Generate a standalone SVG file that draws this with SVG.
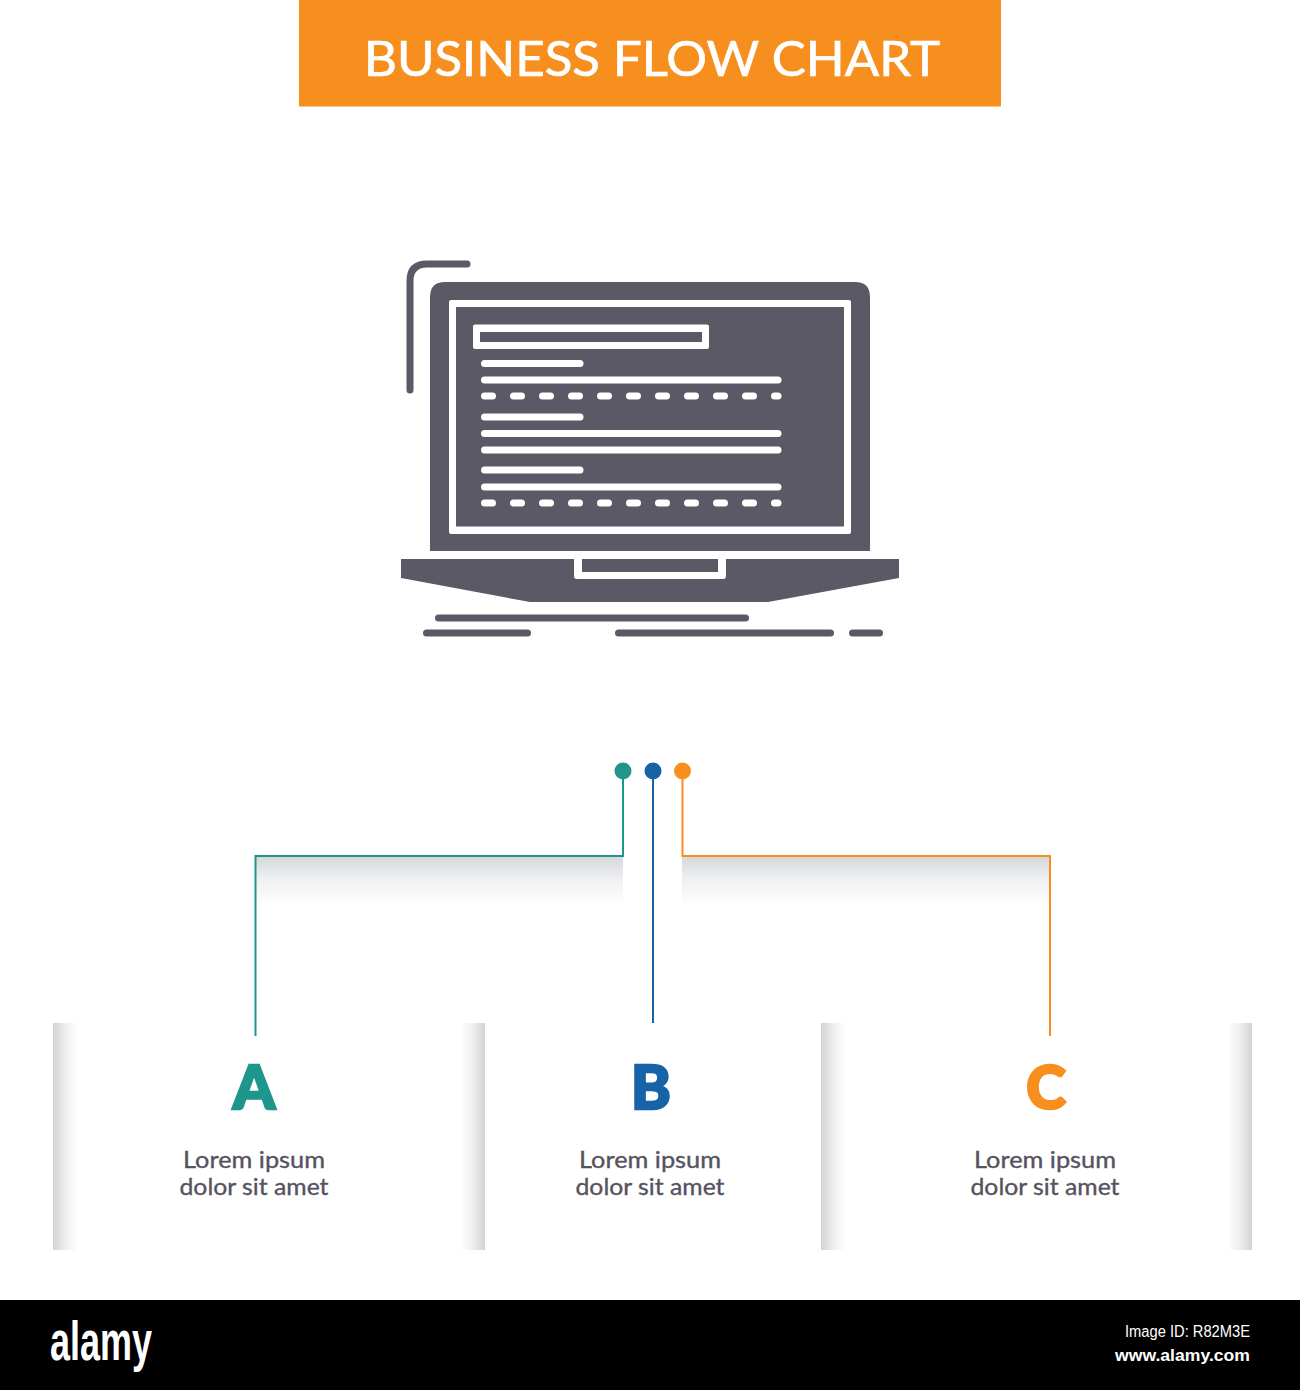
<svg xmlns="http://www.w3.org/2000/svg" width="1300" height="1390" viewBox="0 0 1300 1390">
  <style>
    .dark { fill: #5b5966; }
    .wl { stroke: #ffffff; stroke-width: 7; stroke-linecap: round; fill: none; }
    .dl { stroke: #5b5966; stroke-width: 7; stroke-linecap: round; fill: none; }
    .dash { stroke-dasharray: 8 21; }
    .body { font-family: "Lato", "Liberation Sans", sans-serif; font-size: 23px; fill: #55535f; stroke: #55535f; stroke-width: 0.35; text-anchor: middle; }
    .letter { font-family: "Lato", "Liberation Sans", sans-serif; font-weight: 900; font-size: 60px; stroke-width: 2.6; stroke-linejoin: miter; text-anchor: middle; }
    .conn { fill: none; stroke-width: 2; }
  </style>
  <defs>
    <linearGradient id="shadeDown" x1="0" y1="0" x2="0" y2="1">
      <stop offset="0" stop-color="#d6d8da"/>
      <stop offset="0.45" stop-color="#eff0f1"/>
      <stop offset="1" stop-color="#ffffff"/>
    </linearGradient>
    <linearGradient id="shadeL" x1="0" y1="0" x2="1" y2="0">
      <stop offset="0" stop-color="#d2d3d5"/>
      <stop offset="0.5" stop-color="#eeeff0"/>
      <stop offset="1" stop-color="#ffffff"/>
    </linearGradient>
    <linearGradient id="shadeR" x1="1" y1="0" x2="0" y2="0">
      <stop offset="0" stop-color="#d2d3d5"/>
      <stop offset="0.5" stop-color="#eeeff0"/>
      <stop offset="1" stop-color="#ffffff"/>
    </linearGradient>
  </defs>
  <rect width="1300" height="1390" fill="#ffffff"/>

  <g id="header">
    <rect x="299" y="0" width="702" height="106.5" fill="#f78f1f"/>
    <text x="652" y="76" font-family="Lato, 'Liberation Sans', sans-serif" font-size="48" fill="#ffffff" stroke="#ffffff" stroke-width="0.7" text-anchor="middle" textLength="576" lengthAdjust="spacingAndGlyphs">BUSINESS FLOW CHART</text>
  </g>

  <g id="laptop">
    <path class="dl" d="M410 390 V281 Q410 264 427 264 H467"/>
    <path class="dark" d="M430 551 V297 Q430 282 445 282 H855 Q870 282 870 297 V551 Z"/>
    <rect x="449" y="300" width="402" height="234" rx="2" fill="#ffffff"/>
    <rect x="456" y="307" width="388" height="219.500" class="dark"/>
    <rect x="473" y="324.500" width="236" height="24.500" rx="2" fill="#ffffff"/>
    <rect x="480" y="332" width="222" height="10" class="dark"/>
    <path class="wl" d="M484.500 363.500 H580"/>
    <path class="wl" d="M484.500 380 H778"/>
    <path class="wl dash" d="M484.500 396 H778"/>
    <path class="wl" d="M484.500 417 H580"/>
    <path class="wl" d="M484.500 433.500 H778"/>
    <path class="wl" d="M484.500 450 H778"/>
    <path class="wl" d="M484.500 470 H580"/>
    <path class="wl" d="M484.500 487 H778"/>
    <path class="wl dash" d="M484.500 503 H778"/>
    <path class="dark" d="M401 559 H574 V576 Q574 579 577 579 H723 Q726 579 726 576 V559 H899 V578 L768 602 H530 L401 578 Z"/>
    <rect x="582" y="559" width="136" height="13" class="dark"/>
    <path class="dl" d="M438.500 618 H745.500"/>
    <path class="dl" d="M426.500 633 H527.500"/>
    <path class="dl" d="M618.500 633 H830.500"/>
    <path class="dl" d="M852.500 633 H879.500"/>
  </g>

  <g id="shades">
    <rect x="255" y="857" width="368" height="49" fill="url(#shadeDown)"/>
    <rect x="682" y="857" width="368" height="49" fill="url(#shadeDown)"/>
  </g>

  <g id="connectors">
    <path class="conn" stroke="#1f968b" d="M623 771 V856 H255.500 V1036"/>
    <path class="conn" stroke="#1763a8" d="M653 771 V1023"/>
    <path class="conn" stroke="#f78f1f" d="M682.500 771 V856 H1050 V1036"/>
    <circle cx="623" cy="771" r="8.500" fill="#1f968b"/>
    <circle cx="653" cy="771" r="8.500" fill="#1763a8"/>
    <circle cx="682.500" cy="771" r="8.500" fill="#f78f1f"/>
  </g>

  <g id="node-a">
    <rect x="53" y="1023" width="25" height="227" fill="url(#shadeL)"/>
    <rect x="460" y="1023" width="25" height="227" fill="url(#shadeR)"/>
    <text class="letter" x="254" y="1109" fill="#1f968b" stroke="#1f968b">A</text>
    <text class="body" x="254" y="1168" textLength="142" lengthAdjust="spacingAndGlyphs">Lorem ipsum</text>
    <text class="body" x="254" y="1195" textLength="149" lengthAdjust="spacingAndGlyphs">dolor sit amet</text>
  </g>
  <g id="node-b">
    <text class="letter" x="651" y="1109" fill="#1763a8" stroke="#1763a8">B</text>
    <text class="body" x="650" y="1168" textLength="142" lengthAdjust="spacingAndGlyphs">Lorem ipsum</text>
    <text class="body" x="650" y="1195" textLength="149" lengthAdjust="spacingAndGlyphs">dolor sit amet</text>
  </g>
  <g id="node-c">
    <rect x="821" y="1023" width="25" height="227" fill="url(#shadeL)"/>
    <rect x="1227" y="1023" width="25" height="227" fill="url(#shadeR)"/>
    <text class="letter" x="1046" y="1109" fill="#f78f1f" stroke="#f78f1f">C</text>
    <text class="body" x="1045" y="1168" textLength="142" lengthAdjust="spacingAndGlyphs">Lorem ipsum</text>
    <text class="body" x="1045" y="1195" textLength="149" lengthAdjust="spacingAndGlyphs">dolor sit amet</text>
  </g>

  <g id="footer">
    <rect x="0" y="1300" width="1300" height="90" fill="#000000"/>
    <text x="50" y="1360" font-family="'Liberation Sans', sans-serif" font-weight="700" font-size="56" fill="#ffffff" textLength="102" lengthAdjust="spacingAndGlyphs">alamy</text>
    <text x="1125" y="1337" font-family="'Liberation Sans', sans-serif" font-size="16" fill="#ffffff" textLength="125" lengthAdjust="spacingAndGlyphs">Image ID: R82M3E</text>
    <text x="1115" y="1361" font-family="'Liberation Sans', sans-serif" font-weight="700" font-size="17" fill="#ffffff" textLength="135" lengthAdjust="spacingAndGlyphs">www.alamy.com</text>
  </g>
</svg>
